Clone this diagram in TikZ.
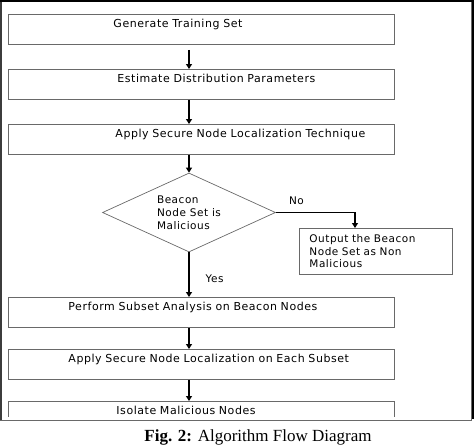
\documentclass[tikz,border=0pt]{standalone}
\usepackage{fontspec}
\newfontfamily\flowfont[LetterSpace=5]{DejaVu Sans}
\newfontfamily\capfont{Liberation Serif}
\definecolor{boxgray}{RGB}{105,105,105}
\definecolor{framegray}{RGB}{60,60,60}
\usepackage{tikz}
\usetikzlibrary{shapes.geometric, arrows.meta, positioning, calc}

\tikzset{
  stepbox/.style={draw=boxgray, line width=0.9pt, anchor=north west, text width=380pt,
    inner xsep=3pt, inner ysep=0pt, text height=13pt, text depth=17pt, align=left,
    font=\flowfont\fontsize{11}{12}\selectfont},
  decision/.style={diamond, draw=boxgray, line width=0.7pt, minimum width=173pt,
    minimum height=79pt, inner sep=0pt, aspect=2.2, align=left,
    font=\flowfont\fontsize{10.5}{13}\selectfont},
  outbox/.style={draw=boxgray, line width=0.9pt, anchor=north west, text width=133pt,
    inner xsep=10pt, inner ysep=0pt, minimum height=46pt, align=left,
    font=\flowfont\fontsize{10.5}{12.5}\selectfont},
  flow/.style={draw=black, line width=1.3pt, -{Triangle[width=6pt,length=5pt]}},
  flowlabel/.style={font=\flowfont\fontsize{10.5}{12}\selectfont, inner sep=2pt}
}

\begin{document}
\begin{tikzpicture}[x=1pt, y=-1pt]
  \useasboundingbox (0,0) rectangle (474,447);

  \begin{scope}
    \clip (0,0) rectangle (474,416);
    % process steps
    \node[stepbox] (gen) at (8,14) {\hspace*{102pt}Generate Training Set};
    \node[stepbox] (est) at (8,69) {\hspace*{106pt}Estimate Distribution Parameters};
    \node[stepbox] (loc) at (8,124) {\hspace*{104pt}Apply Secure Node Localization Technique};
    \node[decision] (dec) at (189,212.5) {Beacon\\Node Set is\\Malicious};
    \node[outbox] (out) at (299,228) {Output the Beacon\\Node Set as Non\\Malicious};
    \node[stepbox] (sub) at (8,297) {\hspace*{57pt}Perform Subset Analysis on Beacon Nodes};
    \node[stepbox] (each) at (8,349) {\hspace*{57pt}Apply Secure Node Localization on Each Subset};
    \node[stepbox] (iso) at (8,401) {\hspace*{105pt}Isolate Malicious Nodes};

    % connectors
    \draw[flow, shorten <=5pt] (gen.south -| dec) -- (est.north -| dec);
    \draw[flow] (est.south -| dec) -- (loc.north -| dec);
    \draw[flow] (loc.south -| dec) -- (dec.north);
    \draw[flow] (dec.east) -| node[flowlabel, pos=0.13, above, yshift=5pt] {No}
      ($(out.north west)+(56,0)$);
    \draw[flow] (dec.south) -- node[flowlabel, pos=0.58, right, xshift=14pt] {Yes}
      (sub.north -| dec);
    \draw[flow] (sub.south -| dec) -- (each.north -| dec);
    \draw[flow] (each.south -| dec) -- (iso.north -| dec);
  \end{scope}

  % frame
  \fill[framegray] (0,0) rectangle (2,420);
  \fill[black] (0,0) rectangle (474,2);
  \fill[black] (472,0) rectangle (474,419);
  \draw[boxgray, line width=0.8pt] (471,2) -- (471,420) -- (0,420);

  \node[font=\capfont\fontsize{17}{19}\selectfont] (cap) at (258,437)
    {\textbf{Fig. 2:} Algorithm Flow Diagram};
\end{tikzpicture}
\end{document}
